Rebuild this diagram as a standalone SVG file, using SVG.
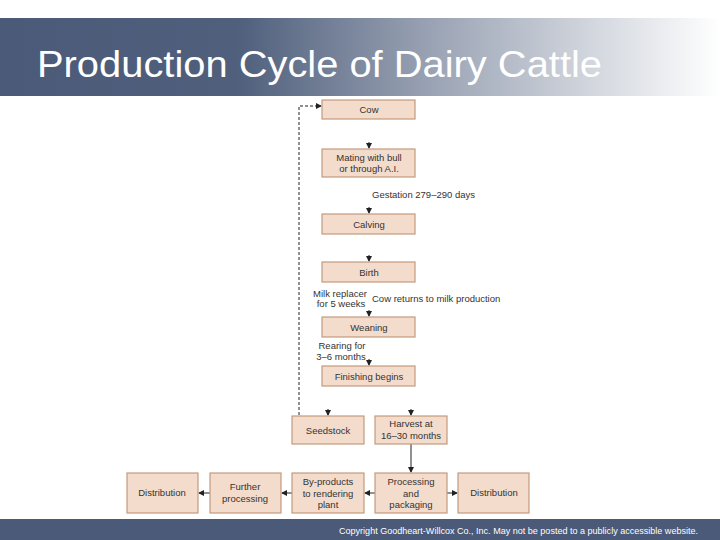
<svg xmlns="http://www.w3.org/2000/svg" width="720" height="540" viewBox="0 0 720 540">
<defs>
<linearGradient id="tg" x1="0" x2="1" y1="0" y2="0">
<stop offset="0" stop-color="#4a5a78"/><stop offset="0.33" stop-color="#4f5f7c"/><stop offset="0.6" stop-color="#9aa3b4"/><stop offset="1" stop-color="#ffffff"/>
</linearGradient>
<marker id="ah" markerWidth="6" markerHeight="6" refX="5" refY="3" orient="auto" markerUnits="userSpaceOnUse"><path d="M0,0 L6,3 L0,6 z" fill="#222"/></marker>
<style>
.b{fill:#f3dccb;stroke:#c49a7e;stroke-width:1.2}
.t{font-family:"Liberation Sans",Arial,sans-serif;font-size:9.5px;fill:#333;text-anchor:middle}
.l{font-family:"Liberation Sans",Arial,sans-serif;font-size:9.5px;fill:#333}
.c{stroke:#222;stroke-width:1;fill:none}
</style>
</defs>
<rect x="0" y="18" width="720" height="78" fill="url(#tg)"/>
<text x="37" y="77" font-family="Liberation Sans,Arial,sans-serif" font-size="37" fill="#fff" textLength="565" lengthAdjust="spacingAndGlyphs">Production Cycle of Dairy Cattle</text>
<rect x="0" y="519" width="720" height="21" fill="#4a5a78"/>
<text x="339" y="534" font-family="Liberation Sans,Arial,sans-serif" font-size="9" fill="#fff" textLength="359" lengthAdjust="spacingAndGlyphs">Copyright Goodheart-Willcox Co., Inc.  May not be posted to a publicly accessible website.</text>
<g id="connectors">
<path class="c" d="M299,415 V106 H321" stroke-dasharray="3,2" marker-end="url(#ah)"/>
<path class="c" d="M369,142 V148" marker-end="url(#ah)"/>
<path class="c" d="M369,207 V213" marker-end="url(#ah)"/>
<path class="c" d="M369,255 V261" marker-end="url(#ah)"/>
<path class="c" d="M369,310 V316" marker-end="url(#ah)"/>
<path class="c" d="M369,359 V365" marker-end="url(#ah)"/>
<path class="c" d="M328,409 V415" marker-end="url(#ah)"/>
<path class="c" d="M411,409 V415" marker-end="url(#ah)"/>
<path class="c" d="M411,444 V472" marker-end="url(#ah)"/>
<path class="c" d="M375,493 H365" marker-end="url(#ah)"/>
<path class="c" d="M292,493 H282" marker-end="url(#ah)"/>
<path class="c" d="M210,493 H199" marker-end="url(#ah)"/>
<path class="c" d="M447,493 H457" marker-end="url(#ah)"/>
</g>
<g id="cow"><rect class="b" x="322" y="100" width="93" height="19"/><text class="t" x="369" y="113">Cow</text></g>
<g id="mating"><rect class="b" x="322" y="149" width="93" height="28"/><text class="t" x="369" y="161">Mating with bull</text><text class="t" x="369" y="172">or through A.I.</text></g>
<text class="l" x="372" y="198">Gestation 279–290 days</text>
<g id="calving"><rect class="b" x="322" y="214" width="93" height="20"/><text class="t" x="369" y="228">Calving</text></g>
<g id="birth"><rect class="b" x="322" y="262" width="93" height="20"/><text class="t" x="369" y="276">Birth</text></g>
<text class="t" x="340" y="297">Milk replacer</text><text class="t" x="341" y="307">for 5 weeks</text>
<text class="l" x="372" y="302">Cow returns to milk production</text>
<g id="weaning"><rect class="b" x="322" y="317" width="93" height="20"/><text class="t" x="369" y="331">Weaning</text></g>
<text class="t" x="342" y="349">Rearing for</text><text class="t" x="341" y="360">3–6 months</text>
<g id="finishing"><rect class="b" x="322" y="366" width="93" height="20"/><text class="t" x="369" y="380">Finishing begins</text></g>
<g id="seedstock"><rect class="b" x="292" y="416" width="72" height="28"/><text class="t" x="328" y="434">Seedstock</text></g>
<g id="harvest"><rect class="b" x="375" y="416" width="72" height="28"/><text class="t" x="411" y="427">Harvest at</text><text class="t" x="411" y="439">16–30 months</text></g>
<g id="dist1"><rect class="b" x="127" y="473" width="71" height="40"/><text class="t" x="162" y="496">Distribution</text></g>
<g id="further"><rect class="b" x="210" y="473" width="71" height="40"/><text class="t" x="245" y="490">Further</text><text class="t" x="245" y="502">processing</text></g>
<g id="byproducts"><rect class="b" x="292" y="473" width="72" height="40"/><text class="t" x="328" y="485">By-products</text><text class="t" x="328" y="497">to rendering</text><text class="t" x="328" y="508">plant</text></g>
<g id="processing"><rect class="b" x="375" y="473" width="72" height="40"/><text class="t" x="411" y="485">Processing</text><text class="t" x="411" y="497">and</text><text class="t" x="411" y="508">packaging</text></g>
<g id="dist2"><rect class="b" x="458" y="473" width="71" height="40"/><text class="t" x="494" y="496">Distribution</text></g>
</svg>
